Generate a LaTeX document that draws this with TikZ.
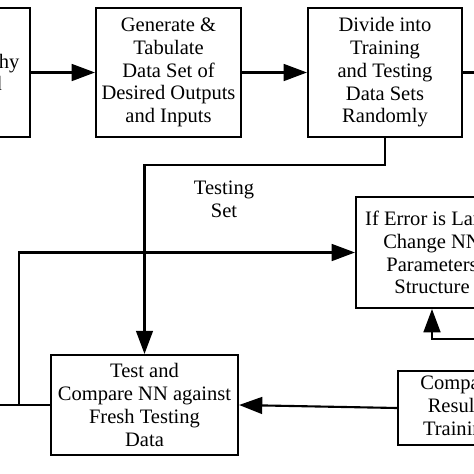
\documentclass[tikz,border=0pt]{standalone}
\usepackage{fontspec}
\setmainfont{Liberation Serif}
\usetikzlibrary{arrows.meta}

\begin{document}
\begin{tikzpicture}[
        box/.style={draw, line width=1.5pt, align=center, inner sep=0pt,
                    font=\fontsize{14.6}{16.2}\selectfont},
        flow/.style={line width=1.5pt, -{Triangle[length=5.8mm,width=4.2mm]}},
        plain/.style={line width=1.5pt}
    ]
        \useasboundingbox (0,0) rectangle (11.85,-11.85);
        \clip (0,0) rectangle (11.85,-11.85);

        % top row
        \node[box, minimum width=3cm, minimum height=3.225cm] (topo) at (-0.75,-1.8125)
            {Select\\Topography\\Method\\to Use};
        \node[box, minimum width=3.625cm, minimum height=3.225cm] (gen) at (4.2125,-1.8125)
            {Generate \&\\Tabulate\\Data Set of\\Desired Outputs\\and Inputs};
        \node[box, minimum width=3.85cm, minimum height=3.225cm] (divide) at (9.625,-1.8125)
            {Divide into\\Training\\and Testing\\Data Sets\\Randomly};

        % lower part
        \node[box, minimum width=3.8cm, minimum height=2.775cm] (error) at (10.8,-6.3125)
            {If Error is Large\\Change NN\\Parameters\\Structure};
        \node[box, minimum width=4.675cm, minimum height=2.5cm] (test) at (3.6125,-10.125)
            {Test and\\Compare NN against\\Fresh Testing\\Data};
        \node[box, minimum width=3cm, minimum height=1.85cm] (compare) at (11.45,-10.2)
            {Compare\\Results\\Training};

        \node[align=center, font=\fontsize{14.6}{16.2}\selectfont] (lbl) at (5.6,-4.9875)
            {Testing\\Set};

        \coordinate (turn) at (3.6125,-4.125);
        \coordinate (fb) at (0.475,-10.125);
        \coordinate (back) at (12.5,-8.475);

        \draw[flow] (topo) -- (gen);
        \draw[flow] (gen) -- (divide);
        \draw[plain] (divide.east) -- ++(1,0);

        \draw[flow] (divide.south) |- (turn) -- (test.north);
        \draw[plain] (test.west) -- (fb) -- ++(-1,0);
        \draw[flow] (fb) |- (error.west);
        \draw[flow] (compare.west) -- (test.east);
        \draw[flow] (back) -| (error.south);
    \end{tikzpicture}
\end{document}
